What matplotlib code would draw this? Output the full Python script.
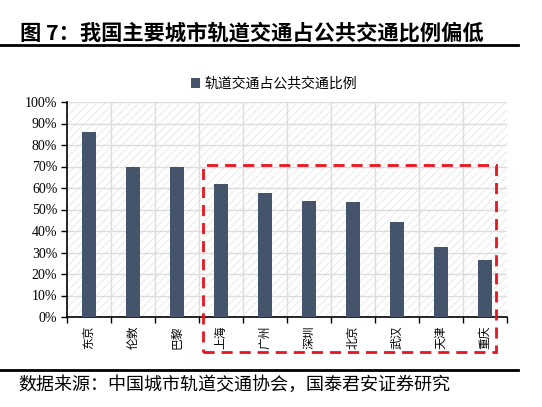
import matplotlib
matplotlib.use("Agg")
import matplotlib.pyplot as plt
from matplotlib.patches import Rectangle
from matplotlib.lines import Line2D
import numpy as np

plt.rcParams['font.family'] = ['Noto Sans CJK SC', 'DejaVu Sans']
plt.rcParams['hatch.linewidth'] = 0.6
plt.rcParams['hatch.color'] = '#e6e6e6'

cities = ["东京", "伦敦", "巴黎", "上海", "广州", "深圳", "北京", "武汉", "天津", "重庆"]
ratio = [86, 70, 70, 62, 57.5, 54, 53.3, 44.3, 32.6, 26.7]
series_name = "轨道交通占公共交通比例"
yticks = [0, 10, 20, 30, 40, 50, 60, 70, 80, 90, 100]
ytick_labels = [f"{v}%" for v in yticks]
title = "图 7：我国主要城市轨道交通占公共交通比例偏低"
source = "数据来源：中国城市轨道交通协会，国泰君安证券研究"

W, H = 542, 407
fig = plt.figure(figsize=(W / 100, H / 100), dpi=100)
ax = fig.add_axes([67 / W, 1 - 317 / H, 440 / W, 215 / H])

x = np.arange(len(cities))
ax.set_xlim(-0.5, len(cities) - 0.5)
ax.set_ylim(0, 100)

# hatched background
bg = Rectangle((0, 0), 1, 1, transform=ax.transAxes, facecolor='white',
               hatch='////', edgecolor='#e6e6e6', linewidth=0, zorder=0)
ax.add_patch(bg)

# grid
for v in yticks[1:]:
    ax.axhline(v, color='#dcdcdc', lw=1.0, zorder=1)
for b in np.arange(0.5, len(cities) - 0.5, 1):
    ax.axvline(b, color='#dcdcdc', lw=1.0, zorder=1)

ax.bar(x, ratio, width=0.3, color='#44546a', zorder=3, label=series_name)

ax.set_yticks(yticks)
ax.set_yticklabels(ytick_labels, family='Liberation Serif', fontsize=10)
ax.set_xticks(np.arange(-0.5, len(cities), 1))
ax.set_xticklabels([])
ax.set_xticks(x, minor=True)
ax.set_xticklabels(cities, minor=True, rotation=90, fontsize=8.5)
ax.tick_params(axis='x', which='minor', length=0, pad=6)
ax.tick_params(axis='x', which='major', length=4, direction='out', width=1)
ax.tick_params(axis='y', length=4, direction='out', width=1, pad=3)
for s in ['top', 'right']:
    ax.spines[s].set_visible(False)
for s in ['left', 'bottom']:
    ax.spines[s].set_linewidth(1.2)
    ax.spines[s].set_color('black')

# red dashed box (annotation)
box = Rectangle((2.59, -16.3), 9.25 - 2.59, 70.6 + 16.3, fill=False,
                edgecolor='#e8141e', linewidth=2, linestyle=(0, (4, 2.5)),
                clip_on=False, zorder=5)
ax.add_patch(box)

# legend
leg = ax.legend(loc='upper center', bbox_to_anchor=(0.47, 1.0 + 38 / 215), frameon=False,
                fontsize=10, handlelength=0.7, handleheight=0.7, handletextpad=0.3)

# title and lines
fig.text(20 / W, 1 - 33 / H, title, fontsize=15.3, fontweight='bold', va='center', ha='left')
fig.add_artist(Line2D([0, 518 / W], [1 - 45 / H, 1 - 45 / H], color='black', lw=2))
fig.add_artist(Line2D([0, 518 / W], [1 - 370 / H, 1 - 370 / H], color='black', lw=2))
fig.text(18 / W, 1 - 385 / H, source, fontsize=13, va='center', ha='left')

fig.savefig("out.png", dpi=100)
